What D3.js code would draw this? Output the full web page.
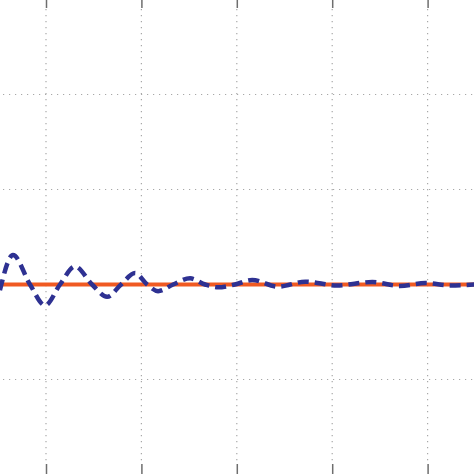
<!DOCTYPE html>
<html>
<head>
<meta charset="utf-8">
<script src="https://cdn.jsdelivr.net/npm/d3@7/dist/d3.min.js"></script>
<style>
  html, body { margin: 0; padding: 0; background: #fff; }
  svg { display: block; }
</style>
</head>
<body>
<div id="chart"></div>
<script>
// Data (time in s, response)
const xTicks = [1, 2, 3, 4, 5];
const yTicks = [-1, 0, 1, 2];

const respTime = [0.517, 0.654, 0.832, 0.99, 1.147, 1.304, 1.483, 1.64, 1.787, 1.934, 2.06, 2.175, 2.332, 2.51, 2.668, 2.804, 2.98, 3.161, 3.434, 3.717, 4.05, 4.42, 4.71, 4.976, 5.24, 5.49];
const respValue = [-0.06, 0.31, 0.0, -0.22, 0.0, 0.19, 0.0, -0.13, 0.0, 0.12, 0.0, -0.07, 0.0, 0.065, 0.0, -0.03, 0.0, 0.047, -0.023, 0.03, -0.01, 0.026, -0.016, 0.016, -0.01, 0.0];

const refTime = [0.5, 5.5];
const refValue = [0, 0];

const width = 474;
const height = 474;

// x: gridlines at 46, 141.3, ... ; y: zero at 284.5, 95 px per unit
const x = d3.scaleLinear()
    .domain([1, 5])
    .range([46, 46 + 4 * 95.4]);
const y = d3.scaleLinear()
    .domain([-1, 2])
    .range([379.5, 94.5]);

const svg = d3.select("#chart")
    .append("svg")
    .attr("width", width)
    .attr("height", height);

// Grid
svg.append("g")
    .selectAll("line")
    .data(yTicks)
    .enter()
    .append("line")
    .attr("x1", 3)
    .attr("x2", width)
    .attr("y1", d => y(d))
    .attr("y2", d => y(d))
    .attr("stroke", "#a8a8a8")
    .attr("stroke-width", 1.2)
    .attr("stroke-dasharray", "1.2,4.8");

svg.append("g")
    .selectAll("line")
    .data(xTicks)
    .enter()
    .append("line")
    .attr("x1", d => x(d))
    .attr("x2", d => x(d))
    .attr("y1", 9)
    .attr("y2", 464)
    .attr("stroke", "#a8a8a8")
    .attr("stroke-width", 1.2)
    .attr("stroke-dasharray", "1.2,4.8");

// Tick marks top and bottom
const topAxis = d3.axisTop(x).tickValues(xTicks).tickSize(8).tickFormat("");
svg.append("g")
    .attr("transform", "translate(0, 8)")
    .call(topAxis)
    .call(g => g.select(".domain").remove())
    .call(g => g.selectAll("line").attr("stroke", "#6e6e6e").attr("stroke-width", 1.5));

const bottomAxis = d3.axisBottom(x).tickValues(xTicks).tickSize(10).tickFormat("");
svg.append("g")
    .attr("transform", "translate(0, 464)")
    .call(bottomAxis)
    .call(g => g.select(".domain").remove())
    .call(g => g.selectAll("line").attr("stroke", "#6e6e6e").attr("stroke-width", 1.5));

// Reference line
const refLine = d3.line()
    .x((d, i) => x(refTime[i]))
    .y(d => y(d));
svg.append("path")
    .datum(refValue)
    .attr("d", refLine)
    .attr("fill", "none")
    .attr("stroke", "#f05a22")
    .attr("stroke-width", 4);

// Response line
const respLine = d3.line()
    .x((d, i) => x(respTime[i]))
    .y(d => y(d))
    .curve(d3.curveMonotoneX);
svg.append("path")
    .datum(respValue)
    .attr("d", respLine)
    .attr("fill", "none")
    .attr("stroke", "#2e3192")
    .attr("stroke-width", 4.5)
    .attr("stroke-dasharray", "11,6");
</script>
</body>
</html>
